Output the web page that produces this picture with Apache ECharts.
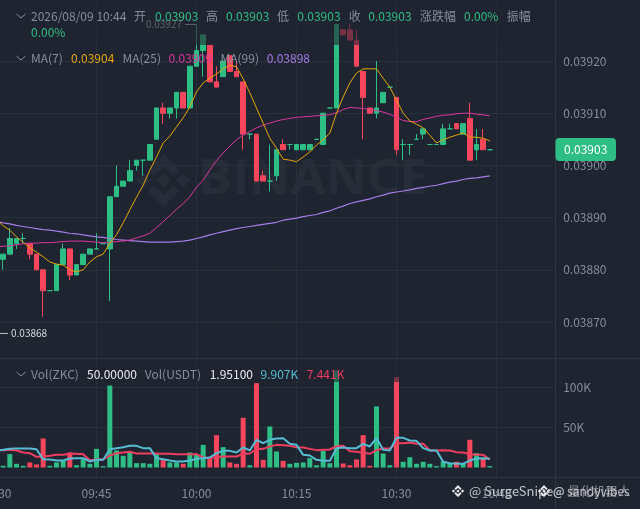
<!DOCTYPE html>
<html><head><meta charset="utf-8">
<style>html,body{margin:0;padding:0;background:#1f2530}#c{width:640px;height:509px}</style>
<script src="https://cdn.jsdelivr.net/npm/echarts@6/dist/echarts.min.js"></script>
</head><body><div id="c"></div>
<script>
const startMinute = 9*60+30, slots = 84;
const categories = Array.from({length:slots},(_,i)=>{const m=startMinute+i;return String(Math.floor(m/60)).padStart(2,'0')+':'+String(m%60).padStart(2,'0');});
// [open, close, low, high]
const candles = [
[0.03878,0.03878,0.03868,0.03880],[0.03882,0.03883,0.03880,0.03883],[0.03883,0.03886,0.03883,0.03888],[0.03885,0.03886,0.03884,0.03886],[0.03886,0.03886,0.03885,0.03887],
[0.03885,0.03883,0.03882,0.03885],[0.03883,0.03880,0.03880,0.03883],[0.03880,0.03876,0.03871,0.03880],[0.03876,0.03876,0.03876,0.03876],[0.03876,0.03881,0.03876,0.03881],
[0.03881,0.03884,0.03881,0.03885],[0.03884,0.03879,0.03878,0.03884],[0.03879,0.03881,0.03879,0.03881],[0.03881,0.03883,0.03881,0.03883],[0.03883,0.03884,0.03883,0.03884],
[0.03884,0.03884,0.03884,0.03887],[0.03885,0.03885,0.03885,0.03885],[0.03884,0.03894,0.03874,0.03894],[0.03894,0.03896,0.03894,0.03900],[0.03896,0.03897,0.03896,0.03897],
[0.03897,0.03899,0.03897,0.03901],[0.03900,0.03901,0.03899,0.03901],[0.03901,0.03901,0.03898,0.03901],[0.03901,0.03904,0.03901,0.03904],[0.03905,0.03911,0.03905,0.03911],
[0.03911,0.03910,0.03908,0.03912],[0.03910,0.03911,0.03909,0.03911],[0.03911,0.03914,0.03909,0.03914],[0.03914,0.03911,0.03911,0.03914],[0.03911,0.03919,0.03911,0.03919],
[0.03919,0.03922,0.03919,0.03927],[0.03922,0.03925,0.03917,0.03925],[0.03923,0.03916,0.03916,0.03923],[0.03916,0.03915,0.03915,0.03919],[0.03917,0.03920,0.03917,0.03920],
[0.03921,0.03918,0.03918,0.03921],[0.03918,0.03917,0.03917,0.03920],[0.03916,0.03906,0.03903,0.03916],[0.03906,0.03906,0.03905,0.03906],[0.03906,0.03897,0.03897,0.03906],
[0.03898,0.03897,0.03897,0.03899],[0.03897,0.03897,0.03895,0.03904],[0.03898,0.03903,0.03897,0.03903],[0.03904,0.03903,0.03903,0.03905],[0.03904,0.03904,0.03903,0.03904],
[0.03903,0.03904,0.03903,0.03904],[0.03903,0.03904,0.03903,0.03904],[0.03903,0.03904,0.03903,0.03904],[0.03905,0.03905,0.03905,0.03905],[0.03904,0.03910,0.03904,0.03910],
[0.03911,0.03911,0.03911,0.03911],[0.03911,0.03927,0.03911,0.03927],[0.03926,0.03925,0.03925,0.03926],[0.03926,0.03924,0.03924,0.03927],[0.03924,0.03919,0.03919,0.03926],
[0.03918,0.03913,0.03905,0.03918],[0.03911,0.03910,0.03910,0.03911],[0.03910,0.03911,0.03909,0.03920],[0.03912,0.03914,0.03912,0.03914],[0.03915,0.03915,0.03915,0.03915],
[0.03913,0.03903,0.03902,0.03913],[0.03904,0.03904,0.03901,0.03905],[0.03904,0.03904,0.03902,0.03904],[0.03905,0.03905,0.03905,0.03906],[0.03906,0.03907,0.03905,0.03907],
[0.03904,0.03904,0.03904,0.03904],[0.03904,0.03904,0.03904,0.03904],[0.03904,0.03907,0.03904,0.03908],[0.03907,0.03907,0.03907,0.03908],[0.03908,0.03907,0.03907,0.03908],
[0.03906,0.03908,0.03906,0.03908],[0.03909,0.03901,0.03901,0.03912],[0.03903,0.03904,0.03901,0.03907],[0.03905,0.03903,0.03903,0.03907],[0.03903,0.03903,0.03903,0.03903]
];
const ma7 = [0.038897,0.038884,0.038876,0.038863,0.038853,0.038842,0.038834,0.038825,0.038815,0.038811,0.038809,0.038800,0.038796,0.038800,0.038815,0.038825,0.038830,0.038851,0.038867,0.038890,0.038915,0.038939,0.038962,0.038991,0.039016,0.039043,0.039056,0.039074,0.039091,0.039112,0.039141,0.039158,0.039167,0.039175,0.039185,0.039192,0.039189,0.039166,0.039139,0.039110,0.039081,0.039052,0.039033,0.039012,0.039010,0.039007,0.039016,0.039026,0.039039,0.039049,0.039062,0.039100,0.039131,0.039158,0.039177,0.039185,0.039185,0.039185,0.039167,0.039150,0.039125,0.039100,0.039085,0.039079,0.039072,0.039058,0.039043,0.039049,0.039054,0.039058,0.039062,0.039054,0.039054,0.039052,0.039047];
const ma25 = [0.038844,0.038845,0.038846,0.038848,0.038850,0.038851,0.038851,0.038852,0.038852,0.038853,0.038854,0.038855,0.038855,0.038855,0.038854,0.038853,0.038852,0.038853,0.038854,0.038855,0.038857,0.038861,0.038865,0.038870,0.038881,0.038892,0.038904,0.038916,0.038927,0.038940,0.038958,0.038972,0.038991,0.039009,0.039024,0.039037,0.039049,0.039058,0.039065,0.039072,0.039077,0.039081,0.039085,0.039088,0.039090,0.039092,0.039093,0.039094,0.039095,0.039096,0.039097,0.039101,0.039107,0.039111,0.039110,0.039109,0.039107,0.039105,0.039102,0.039098,0.039092,0.039086,0.039084,0.039084,0.039088,0.039091,0.039094,0.039096,0.039097,0.039099,0.039100,0.039100,0.039098,0.039097,0.039095];
const ma99 = [0.038893,0.038890,0.038888,0.038885,0.038883,0.038881,0.038879,0.038877,0.038876,0.038874,0.038872,0.038870,0.038869,0.038867,0.038865,0.038863,0.038862,0.038860,0.038858,0.038857,0.038856,0.038855,0.038854,0.038853,0.038853,0.038853,0.038853,0.038854,0.038855,0.038857,0.038860,0.038863,0.038867,0.038870,0.038873,0.038876,0.038879,0.038881,0.038883,0.038885,0.038887,0.038889,0.038891,0.038895,0.038897,0.038899,0.038902,0.038904,0.038906,0.038910,0.038913,0.038918,0.038922,0.038927,0.038930,0.038933,0.038936,0.038940,0.038943,0.038947,0.038949,0.038951,0.038953,0.038956,0.038958,0.038960,0.038962,0.038965,0.038968,0.038970,0.038973,0.038975,0.038976,0.038978,0.038980];
const volume = [5000,2100,16700,4600,2100,6300,3800,36300,2100,6300,8300,18800,2900,10400,4600,23300,1700,102500,21300,14600,18800,5400,5400,4600,16700,9600,6300,6300,4600,18800,16700,28300,11700,40400,25400,6300,4600,62100,2900,105400,9600,51300,20000,8300,4600,5800,6300,11700,2900,20800,5400,121300,5000,2900,10000,40400,2100,76300,17500,2900,112900,7100,12900,4600,7100,4600,1700,7500,4600,7100,4600,34600,17900,11300,1700];
const volMaBlue = [21300,22100,23300,23800,23800,23800,22900,10400,10000,8800,8800,11300,11700,11700,7500,9600,9600,22900,24200,25400,27100,27100,24200,24200,11700,10400,8800,7500,7500,8800,10800,11700,12500,17900,20800,20800,18800,25000,21300,34600,30400,34600,36300,36700,29600,28300,15800,15000,9600,8300,8300,24200,25000,24200,24200,29600,26300,36700,22100,21300,37100,37100,33800,33300,24200,21300,21300,7100,5400,4600,4600,8800,11300,11700,10800];
const volMaRed = [21300,21700,22100,21300,18800,17900,13300,13800,14600,15800,15800,17100,17100,16700,9200,10000,10000,15000,17900,18800,19600,17500,17500,17500,17500,17100,17100,16700,16700,16700,16700,12500,12100,12900,13800,13800,13800,17100,17500,22900,23300,26300,28300,27900,27100,25400,25000,23300,21700,22100,22500,26700,27100,20400,19600,18300,17100,21700,23800,23800,30400,30400,31300,29600,29600,21300,21300,21700,21300,19200,18800,16700,15800,15800,9600];

const UP='#2EBD85', DOWN='#F6465D', GREY='#848E9C', BG='#1f2530', GRID='#2a303b', LINE='#2e3440';
const GOLD='#E5A50A', PINK='#D9379F', PURPLE='#A57BE6', BLUE='#56BCD3', VRED='#EE3E60';
const FONT='"Noto Sans CJK SC","Noto Sans",sans-serif';
const band = 20/3, gridLeft = -3.5 - band/2;
const priceTop=8.8, priceBottom=374.2, volTop=358, volBottom=467.5;

const logoTop=[[0,-48],[29,-19],[18,-8],[0,-26],[-18,-8],[-29,-19]];
const logoBottom=logoTop.map(p=>[p[0],-p[1]]);
const logoMid=[[0,-13],[13,0],[0,13],[-13,0]];
const logoLeft=logoMid.map(p=>[p[0]-36,p[1]]), logoRight=logoMid.map(p=>[p[0]+36,p[1]]);
function logo(cx,cy,s,fill,z){
  return [logoTop,logoBottom,logoMid,logoLeft,logoRight].map(pts=>({type:'polygon',z,silent:true,
    shape:{points:pts.map(p=>[cx+p[0]*s,cy+p[1]*s])},style:{fill}}));
}
function txt(x,y,text,fill,size,z,extra){
  return {type:'text',x,y,z:z||30,silent:true,style:Object.assign({text,fill,font:(size||12)+'px '+FONT,textVerticalAlign:'middle',textBaseline:'middle'},extra||{})};
}
function chevron(y){
  return {type:'polyline',z:30,silent:true,shape:{points:[[16.5,y-2.5],[21,y+1.5],[25.5,y-2.5]]},style:{stroke:GREY,lineWidth:1,fill:null}};
}
const graphic=[
  {type:'text',x:198,y:180,z:-1,scaleX:1.06,silent:true,style:{text:'BINANCE',fill:'#272d38',font:'bold 48px "Open Sans",sans-serif',textBaseline:'middle',textVerticalAlign:'middle'}},
  ...logo(163.5,180.5,0.55,'#272d38',-1),
  {type:'rect',z:20,silent:true,shape:{x:0,y:0,width:555,height:45},style:{fill:'rgba(31,37,48,0.6)'}},
  {type:'rect',z:20,silent:true,shape:{x:0,y:363,width:400,height:19},style:{fill:'rgba(31,37,48,0.6)'}},
  {type:'line',z:5,silent:true,shape:{x1:0,y1:358.5,x2:640,y2:358.5},style:{stroke:LINE,lineWidth:1}},
  {type:'line',z:5,silent:true,shape:{x1:0,y1:477.5,x2:640,y2:477.5},style:{stroke:LINE,lineWidth:1}},
  {type:'line',z:5,silent:true,shape:{x1:555.5,y1:0,x2:555.5,y2:509},style:{stroke:LINE,lineWidth:1}},
  chevron(16.5),chevron(58.5),chevron(374.5),
  txt(31,16.5,'2026/08/09 10:44',GREY),txt(134,16.5,'开',GREY),txt(155,16.5,'0.03903',UP),
  txt(206,16.5,'高',GREY),txt(226,16.5,'0.03903',UP),txt(277,16.5,'低',GREY),txt(297.3,16.5,'0.03903',UP),
  txt(348.7,16.5,'收',GREY),txt(368.3,16.5,'0.03903',UP),txt(420,16.5,'涨跌幅',GREY),txt(464,16.5,'0.00%',UP),
  txt(506.7,16.5,'振幅',GREY),txt(31,32.5,'0.00%',UP),
  txt(31,58.5,'MA(7)',GREY),txt(71,58.5,'0.03904',GOLD),txt(122.5,58.5,'MA(25)',GREY),txt(168.5,58.5,'0.03909',PINK),
  txt(220.5,58.5,'MA(99)',GREY),txt(266.7,58.5,'0.03898',PURPLE),
  txt(31,374.5,'Vol(ZKC)',GREY),txt(87,374.5,'50.00000','#EAECEF'),txt(144.7,374.5,'Vol(USDT)',GREY),txt(209.7,374.5,'1.95100','#EAECEF'),
  txt(260.5,374.5,'9.907K',BLUE),txt(306.7,374.5,'7.441K',VRED),
  {type:'rect',z:40,silent:true,shape:{x:555.5,y:138,width:60.5,height:23,r:4},style:{fill:UP}},
  txt(564,149.5,'0.03903','#FFFFFF',12,41),
  ...logo(458,491,0.125,'#E8EAED',50),
  txt(469,491,'@ SurgeSnipe','rgba(232,234,237,0.8)',13,50),
  ...logo(544,491,0.125,'#E8EAED',51),
  txt(553,491,'@ 量化机器人','rgba(232,234,237,0.5)',12.5,51),
  txt(553,491,'@ sandyvibes','rgba(232,234,237,0.75)',12,52)
];

const option={
  backgroundColor:BG,animation:false,
  graphic:{elements:graphic},
  grid:[
    {left:gridLeft,top:priceTop,width:band*slots,height:priceBottom-priceTop,outerBoundsMode:'none'},
    {left:gridLeft,top:volTop,width:band*slots,height:volBottom-volTop,outerBoundsMode:'none'},
    {left:-3.5,top:0,width:band*(slots-1),height:477,outerBoundsMode:'none'}
  ],
  xAxis:[
    {type:'category',gridIndex:0,data:categories,show:false},
    {type:'category',gridIndex:1,data:categories,show:false},
    {type:'category',gridIndex:2,data:categories,boundaryGap:false,
      axisLine:{show:false},axisTick:{show:false},
      axisLabel:{color:GREY,fontSize:12,fontFamily:FONT,margin:10,hideOverlap:false,showMinLabel:true,
        interval:i=>i%15===0},
      splitLine:{show:true,interval:i=>i%15===0,lineStyle:{color:GRID,width:1}}}
  ],
  yAxis:[
    {type:'value',gridIndex:0,position:'right',scale:true,min:0.0386,max:0.0393,interval:0.0001,
      axisLine:{show:false},axisTick:{show:false},
      axisLabel:{color:GREY,fontSize:12,fontFamily:FONT,margin:10,showMinLabel:false,showMaxLabel:false,formatter:v=>v.toFixed(5)},
      splitLine:{show:true,showMinLine:false,showMaxLine:false,lineStyle:{color:GRID,width:1}}},
    {type:'value',gridIndex:1,position:'right',min:0,max:136875,interval:50000,
      axisLine:{show:false},axisTick:{show:false},
      axisLabel:{color:GREY,fontSize:12,fontFamily:FONT,margin:10,showMinLabel:false,showMaxLabel:false,formatter:v=>(v/1000)+'K'},
      splitLine:{show:true,showMinLine:false,showMaxLine:false,lineStyle:{color:GRID,width:1}}},
    {type:'value',gridIndex:2,show:false}
  ],
  series:[
    {type:'line',xAxisIndex:2,yAxisIndex:2,data:[],silent:true},
    {type:'candlestick',xAxisIndex:0,yAxisIndex:0,barWidth:5,data:candles,z:3,silent:true,
      itemStyle:{color:UP,color0:DOWN,borderColor:UP,borderColor0:DOWN,borderColorDoji:UP,borderWidth:1},
      markPoint:{silent:true,animation:false,data:[
        {coord:[categories[30],0.03927],symbol:'rect',symbolSize:[11,1],symbolOffset:[-6,0],itemStyle:{color:'#B7BDC6'},
          label:{show:true,position:'left',distance:3,color:'#B7BDC6',fontSize:10,fontFamily:FONT,formatter:'0.03927'}},
        {coord:[categories[0],0.03868],symbol:'rect',symbolSize:[23,1],symbolOffset:[0,1],itemStyle:{color:'#B7BDC6'},
          label:{show:true,position:'right',distance:3,color:'#D5D9E0',fontSize:10,fontFamily:FONT,formatter:'0.03868'}}
      ]}},
    {type:'line',xAxisIndex:0,yAxisIndex:0,data:ma99,showSymbol:false,silent:true,z:4,lineStyle:{color:PURPLE,width:1.2}},
    {type:'line',xAxisIndex:0,yAxisIndex:0,data:ma25,showSymbol:false,silent:true,z:4,lineStyle:{color:PINK,width:1}},
    {type:'line',xAxisIndex:0,yAxisIndex:0,data:ma7,showSymbol:false,silent:true,z:4,lineStyle:{color:GOLD,width:1}},
    {type:'bar',xAxisIndex:1,yAxisIndex:1,barWidth:5,silent:true,z:3,
      data:volume.map((v,i)=>({value:v,itemStyle:{color:candles[i][1]<candles[i][0]?DOWN:UP}}))},
    {type:'line',xAxisIndex:1,yAxisIndex:1,data:volMaRed,showSymbol:false,silent:true,z:4,lineStyle:{color:VRED,width:2}},
    {type:'line',xAxisIndex:1,yAxisIndex:1,data:volMaBlue,showSymbol:false,silent:true,z:5,lineStyle:{color:BLUE,width:2}}
  ]
};
echarts.init(document.getElementById('c'),null,{renderer:'canvas'}).setOption(option);
</script></body></html>
